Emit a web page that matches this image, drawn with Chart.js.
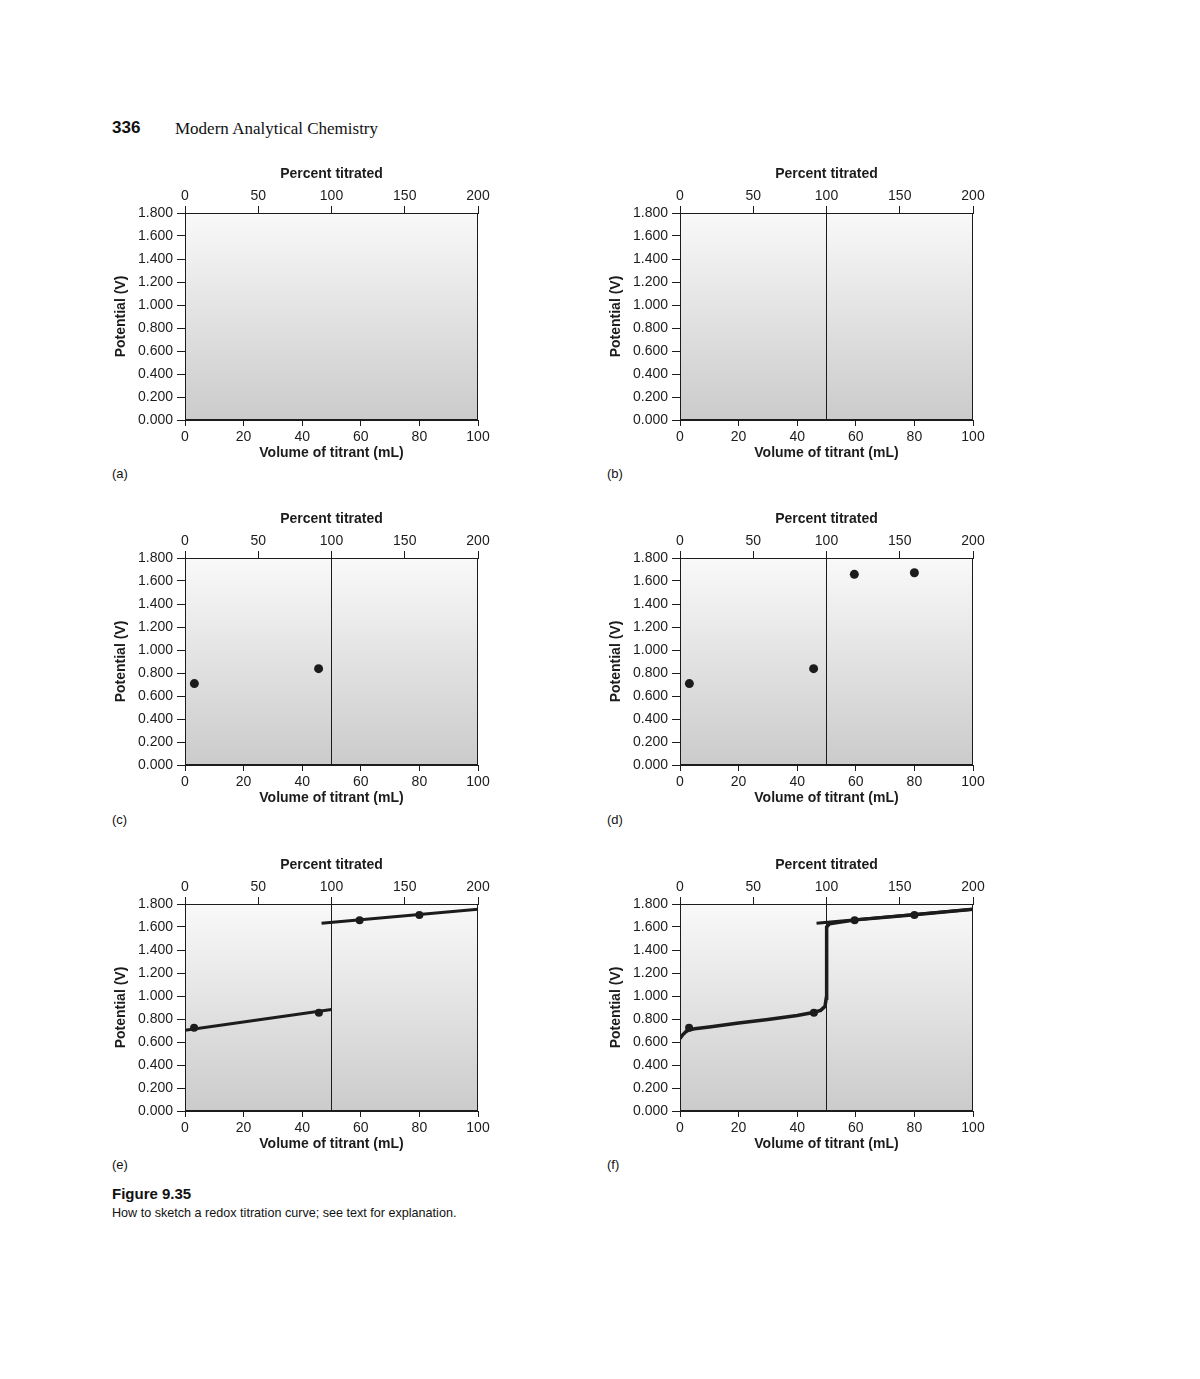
<!DOCTYPE html>
<html>
<head>
<meta charset="utf-8">
<script src="https://cdn.jsdelivr.net/npm/chart.js@4.4.1/dist/chart.umd.min.js"></script>
<style>
  body{margin:0;background:#fff;width:1200px;height:1379px;position:relative;overflow:hidden;font-family:"Liberation Sans",Arial,sans-serif;color:#111}
  .cv{position:absolute}
  .txt{position:absolute;white-space:nowrap;line-height:1}
</style>
</head>
<body>
<div class="txt" style="left:112px;top:118px;font:bold 17px 'Liberation Sans',sans-serif">336</div>
<div class="txt" style="left:175px;top:119px;font:17px 'Liberation Serif',serif">Modern Analytical Chemistry</div>

<canvas id="pa" class="cv" width="400" height="310" style="left:100px;top:155px"></canvas>
<canvas id="pb" class="cv" width="400" height="310" style="left:595px;top:155px"></canvas>
<canvas id="pc" class="cv" width="400" height="310" style="left:100px;top:500px"></canvas>
<canvas id="pd" class="cv" width="400" height="310" style="left:595px;top:500px"></canvas>
<canvas id="pe" class="cv" width="400" height="310" style="left:100px;top:846px"></canvas>
<canvas id="pf" class="cv" width="400" height="310" style="left:595px;top:846px"></canvas>

<div class="txt" style="left:112px;top:467px;font-size:13px">(a)</div>
<div class="txt" style="left:607px;top:467px;font-size:13px">(b)</div>
<div class="txt" style="left:112px;top:813px;font-size:13px">(c)</div>
<div class="txt" style="left:607px;top:813px;font-size:13px">(d)</div>
<div class="txt" style="left:112px;top:1158px;font-size:13px">(e)</div>
<div class="txt" style="left:607px;top:1158px;font-size:13px">(f)</div>

<div class="txt" style="left:112px;top:1185px;font:bold 15px 'Liberation Sans',sans-serif">Figure 9.35</div>
<div class="txt" style="left:112px;top:1207px;font-size:12.6px">How to sketch a redox titration curve; see text for explanation.</div>

<script>
// axis ranges / ticks
const volMin = 0, volMax = 100, volStep = 20;
const pctMin = 0, pctMax = 200, pctStep = 50;
const eMin = 0, eMax = 1.8, eStep = 0.2;

// equivalence point (mL)
const eqVol = 50;

// hand-calculated points, panels (c) and (d)
const pointVol = [3.2, 45.6, 59.5, 80];
const pointE   = [0.708, 0.838, 1.658, 1.672];

// same points as plotted in panels (e) and (f)
const fitVol = [3.1, 45.7, 59.6, 80];
const fitE   = [0.725, 0.855, 1.658, 1.705];

// straight-line sketch, panel (e)
const lowLineVol  = [0, 50];
const lowLineE    = [0.703, 0.883];
const highLineVol = [46.6, 100];
const highLineE   = [1.632, 1.754];

// finished curve, panel (f)
const curveVol = [0, 1, 2, 3, 5, 10, 20, 30, 40, 45, 48, 49.5, 49.9, 50, 50.1, 51, 60, 80, 100];
const curveE   = [0.63, 0.665, 0.69, 0.705, 0.715, 0.73, 0.765, 0.795, 0.83, 0.855, 0.875, 0.91, 0.98, 1.2, 1.6, 1.628, 1.662, 1.707, 1.754];

const FONT = "'Liberation Sans', Arial, sans-serif";
const INK = '#1c1c1c';

function xy(xs, ys){ return xs.map((x,i)=>({x, y:ys[i]})); }

const plotFrame = {
  id:'plotFrame',
  beforeDraw(chart){
    const {ctx, chartArea:a} = chart;
    const g = ctx.createLinearGradient(0, a.top, 0, a.bottom);
    g.addColorStop(0, '#f9f9f9');
    g.addColorStop(1, '#cbcbcb');
    ctx.save();
    ctx.fillStyle = g;
    ctx.fillRect(a.left, a.top, a.right-a.left, a.bottom-a.top);
    ctx.restore();
  },
  afterDraw(chart){
    const {ctx, chartArea:a} = chart;
    ctx.save();
    ctx.strokeStyle = INK;
    ctx.lineWidth = 1;
    ctx.strokeRect(Math.round(a.left)+0.5, Math.round(a.top)+0.5, Math.round(a.right-a.left)-1, Math.round(a.bottom-a.top)-1);
    ctx.restore();
  }
};

function axisGrid(len){
  return {drawOnChartArea:false, drawTicks:true, tickLength:len, color:INK, lineWidth:1};
}

function makePanel(id, datasets){
  new Chart(document.getElementById(id), {
    type:'scatter',
    data:{datasets},
    plugins:[plotFrame],
    options:{
      responsive:false, animation:false, devicePixelRatio:1,
      layout:{padding:{left:0, right:22, top:0, bottom:0}},
      plugins:{legend:{display:false}, tooltip:{enabled:false}},
      scales:{
        x:{
          type:'linear', position:'bottom', min:volMin, max:volMax,
          ticks:{stepSize:volStep, color:INK, padding:3, font:{family:FONT, size:14}},
          grid:axisGrid(6), border:{color:INK, width:1},
          title:{display:true, text:'Volume of titrant (mL)', color:INK, padding:{top:0, bottom:3}, font:{family:FONT, size:14, weight:'bold'}},
          afterFit(s){ s.height = 45; }
        },
        x2:{
          type:'linear', position:'top', min:pctMin, max:pctMax,
          ticks:{stepSize:pctStep, color:INK, padding:1, font:{family:FONT, size:14}},
          grid:axisGrid(7), border:{color:INK, width:1},
          title:{display:true, text:'Percent titrated', color:INK, padding:{top:11, bottom:0}, font:{family:FONT, size:14, weight:'bold'}},
          afterFit(s){ s.height = 58; }
        },
        y:{
          type:'linear', position:'left', min:eMin, max:eMax,
          ticks:{stepSize:eStep, color:INK, padding:4, font:{family:FONT, size:14}, callback:v=>Number(v).toFixed(3)},
          grid:axisGrid(8), border:{color:INK, width:1},
          title:{display:true, text:'Potential (V)', color:INK, padding:{top:13, bottom:0}, font:{family:FONT, size:14, weight:'bold'}},
          afterFit(s){ s.width = 85; }
        }
      }
    }
  });
}

function eqLine(){
  return {data:[{x:eqVol, y:eMin},{x:eqVol, y:eMax}], showLine:true, borderColor:INK, borderWidth:1, pointRadius:0};
}
function dots(xs, ys, r){
  return {data:xy(xs, ys), showLine:false, pointRadius:r, pointBackgroundColor:INK, pointBorderColor:INK, pointBorderWidth:0};
}
function line(xs, ys, w){
  return {data:xy(xs, ys), showLine:true, borderColor:INK, borderWidth:w, pointRadius:0, tension:0};
}

makePanel('pa', []);
makePanel('pb', [eqLine()]);
makePanel('pc', [eqLine(), dots(pointVol.slice(0,2), pointE.slice(0,2), 4.5)]);
makePanel('pd', [eqLine(), dots(pointVol, pointE, 4.5)]);
makePanel('pe', [eqLine(), line(lowLineVol, lowLineE, 3), line(highLineVol, highLineE, 3), dots(fitVol, fitE, 4)]);
makePanel('pf', [eqLine(), line(highLineVol, highLineE, 3), line(curveVol, curveE, 3.5), dots(fitVol, fitE, 4)]);
</script>
</body>
</html>
